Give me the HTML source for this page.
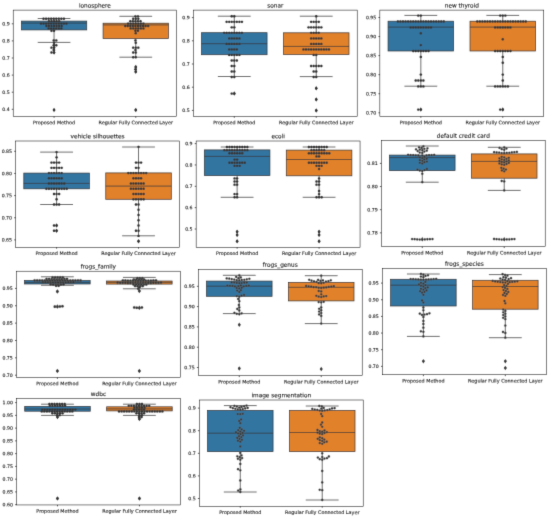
<!DOCTYPE html>
<html><head><meta charset="utf-8"><title>Box and swarm plots</title>
<style>html,body{margin:0;padding:0;background:#fff}svg{display:block}text{font-family:"DejaVu Sans","Liberation Sans",sans-serif;fill:#111;stroke:#111;stroke-width:0.3px}</style></head>
<body>
<svg width="550" height="518" viewBox="0 0 550 518">
<rect width="550" height="518" fill="#fff"/>
<defs><filter id="soft" x="0" y="0" width="550" height="518" filterUnits="userSpaceOnUse"><feConvolveMatrix order="3" kernelMatrix="0.01 0.08 0.01 0.08 0.64 0.08 0.01 0.08 0.01" edgeMode="duplicate" preserveAlpha="false"/></filter></defs>
<g filter="url(#soft)">
<g>
<rect x="21.37" y="21.10" width="65.36" height="8.80" fill="#3274a1" stroke="#383838" stroke-width="0.72"/>
<path d="M54.05 18.50V21.10M54.05 29.90V42.40M37.71 18.50H70.39M37.71 42.40H70.39M21.37 23.10H86.73" fill="none" stroke="#383838" stroke-width="0.72"/>
<path d="M54.05 42.98l1.3 2.25l-1.3 2.25l-1.3 -2.25z" fill="#383838"/>
<path d="M54.05 45.39l1.3 2.25l-1.3 2.25l-1.3 -2.25z" fill="#383838"/>
<path d="M54.05 47.80l1.3 2.25l-1.3 2.25l-1.3 -2.25z" fill="#383838"/>
<path d="M54.05 50.21l1.3 2.25l-1.3 2.25l-1.3 -2.25z" fill="#383838"/>
<path d="M54.05 107.65l1.3 2.25l-1.3 2.25l-1.3 -2.25z" fill="#383838"/>
<g fill="#333" stroke="#555" stroke-width="0.2"><circle cx="54.05" cy="109.90" r="1.18"/><circle cx="54.05" cy="52.46" r="1.18"/><circle cx="51.50" cy="52.46" r="1.18"/><circle cx="53.72" cy="50.05" r="1.18"/><circle cx="54.05" cy="47.64" r="1.18"/><circle cx="51.50" cy="47.64" r="1.18"/><circle cx="53.72" cy="45.23" r="1.18"/><circle cx="56.27" cy="45.23" r="1.18"/><circle cx="54.05" cy="42.82" r="1.18"/><circle cx="53.72" cy="40.42" r="1.18"/><circle cx="56.27" cy="40.42" r="1.18"/><circle cx="54.05" cy="30.78" r="1.18"/><circle cx="51.50" cy="30.78" r="1.18"/><circle cx="53.72" cy="28.38" r="1.18"/><circle cx="56.27" cy="28.38" r="1.18"/><circle cx="51.17" cy="28.38" r="1.18"/><circle cx="58.82" cy="28.38" r="1.18"/><circle cx="48.62" cy="28.38" r="1.18"/><circle cx="61.37" cy="28.38" r="1.18"/><circle cx="54.05" cy="25.97" r="1.18"/><circle cx="56.60" cy="25.97" r="1.18"/><circle cx="51.50" cy="25.97" r="1.18"/><circle cx="59.15" cy="25.97" r="1.18"/><circle cx="48.95" cy="25.97" r="1.18"/><circle cx="61.70" cy="25.97" r="1.18"/><circle cx="46.40" cy="25.97" r="1.18"/><circle cx="53.72" cy="23.56" r="1.18"/><circle cx="56.27" cy="23.56" r="1.18"/><circle cx="51.17" cy="23.56" r="1.18"/><circle cx="58.82" cy="23.56" r="1.18"/><circle cx="48.62" cy="23.56" r="1.18"/><circle cx="61.37" cy="23.56" r="1.18"/><circle cx="46.07" cy="23.56" r="1.18"/><circle cx="63.92" cy="23.56" r="1.18"/><circle cx="43.52" cy="23.56" r="1.18"/><circle cx="66.47" cy="23.56" r="1.18"/><circle cx="40.97" cy="23.56" r="1.18"/><circle cx="54.05" cy="21.15" r="1.18"/><circle cx="56.60" cy="21.15" r="1.18"/><circle cx="51.50" cy="21.15" r="1.18"/><circle cx="59.15" cy="21.15" r="1.18"/><circle cx="48.95" cy="21.15" r="1.18"/><circle cx="53.72" cy="18.74" r="1.18"/><circle cx="56.27" cy="18.74" r="1.18"/><circle cx="51.17" cy="18.74" r="1.18"/><circle cx="58.82" cy="18.74" r="1.18"/><circle cx="48.62" cy="18.74" r="1.18"/><circle cx="61.37" cy="18.74" r="1.18"/><circle cx="46.07" cy="18.74" r="1.18"/><circle cx="63.92" cy="18.74" r="1.18"/><circle cx="43.52" cy="18.74" r="1.18"/></g>
<rect x="103.07" y="23.20" width="65.36" height="15.40" fill="#e1812c" stroke="#383838" stroke-width="0.72"/>
<path d="M135.75 16.30V23.20M135.75 38.60V57.20M119.41 16.30H152.09M119.41 57.20H152.09M103.07 24.90H168.43" fill="none" stroke="#383838" stroke-width="0.72"/>
<path d="M135.75 64.65l1.3 2.25l-1.3 2.25l-1.3 -2.25z" fill="#383838"/>
<path d="M135.75 67.06l1.3 2.25l-1.3 2.25l-1.3 -2.25z" fill="#383838"/>
<path d="M135.75 69.47l1.3 2.25l-1.3 2.25l-1.3 -2.25z" fill="#383838"/>
<path d="M135.75 107.75l1.3 2.25l-1.3 2.25l-1.3 -2.25z" fill="#383838"/>
<g fill="#333" stroke="#555" stroke-width="0.2"><circle cx="135.75" cy="110.00" r="1.18"/><circle cx="135.75" cy="71.72" r="1.18"/><circle cx="135.42" cy="69.31" r="1.18"/><circle cx="135.75" cy="66.90" r="1.18"/><circle cx="135.75" cy="57.27" r="1.18"/><circle cx="133.20" cy="57.27" r="1.18"/><circle cx="135.75" cy="52.46" r="1.18"/><circle cx="133.20" cy="52.46" r="1.18"/><circle cx="135.42" cy="50.05" r="1.18"/><circle cx="135.75" cy="47.64" r="1.18"/><circle cx="133.20" cy="47.64" r="1.18"/><circle cx="138.30" cy="47.64" r="1.18"/><circle cx="135.75" cy="42.82" r="1.18"/><circle cx="135.42" cy="40.42" r="1.18"/><circle cx="135.75" cy="33.19" r="1.18"/><circle cx="135.42" cy="30.78" r="1.18"/><circle cx="137.97" cy="30.78" r="1.18"/><circle cx="135.75" cy="28.38" r="1.18"/><circle cx="138.30" cy="28.38" r="1.18"/><circle cx="133.20" cy="28.38" r="1.18"/><circle cx="140.85" cy="28.38" r="1.18"/><circle cx="130.65" cy="28.38" r="1.18"/><circle cx="143.40" cy="28.38" r="1.18"/><circle cx="135.42" cy="25.97" r="1.18"/><circle cx="137.97" cy="25.97" r="1.18"/><circle cx="132.87" cy="25.97" r="1.18"/><circle cx="140.52" cy="25.97" r="1.18"/><circle cx="130.32" cy="25.97" r="1.18"/><circle cx="143.07" cy="25.97" r="1.18"/><circle cx="127.77" cy="25.97" r="1.18"/><circle cx="145.62" cy="25.97" r="1.18"/><circle cx="125.22" cy="25.97" r="1.18"/><circle cx="148.17" cy="25.97" r="1.18"/><circle cx="135.75" cy="23.56" r="1.18"/><circle cx="138.30" cy="23.56" r="1.18"/><circle cx="133.20" cy="23.56" r="1.18"/><circle cx="140.85" cy="23.56" r="1.18"/><circle cx="130.65" cy="23.56" r="1.18"/><circle cx="143.40" cy="23.56" r="1.18"/><circle cx="128.10" cy="23.56" r="1.18"/><circle cx="135.42" cy="21.15" r="1.18"/><circle cx="137.97" cy="21.15" r="1.18"/><circle cx="132.87" cy="21.15" r="1.18"/><circle cx="140.52" cy="21.15" r="1.18"/><circle cx="130.32" cy="21.15" r="1.18"/><circle cx="135.75" cy="18.74" r="1.18"/><circle cx="138.30" cy="18.74" r="1.18"/><circle cx="133.20" cy="18.74" r="1.18"/><circle cx="135.42" cy="16.34" r="1.18"/><circle cx="137.97" cy="16.34" r="1.18"/></g>
<rect x="13.20" y="10.10" width="163.40" height="106.30" fill="none" stroke="#000" stroke-width="0.5"/>
<path d="M13.20 23.80h-1.4M13.20 40.90h-1.4M13.20 58.00h-1.4M13.20 75.10h-1.4M13.20 92.20h-1.4M13.20 109.30h-1.4M54.05 116.40v1.4M135.75 116.40v1.4" stroke="#000" stroke-width="0.65" fill="none"/>
<text transform="translate(9.60 25.50) scale(0.3056) rotate(0.05)" font-size="15.28" text-anchor="end">0.9</text>
<text transform="translate(9.60 42.60) scale(0.3056) rotate(0.05)" font-size="15.28" text-anchor="end">0.8</text>
<text transform="translate(9.60 59.70) scale(0.3056) rotate(0.05)" font-size="15.28" text-anchor="end">0.7</text>
<text transform="translate(9.60 76.80) scale(0.3056) rotate(0.05)" font-size="15.28" text-anchor="end">0.6</text>
<text transform="translate(9.60 93.90) scale(0.3056) rotate(0.05)" font-size="15.28" text-anchor="end">0.5</text>
<text transform="translate(9.60 111.00) scale(0.3056) rotate(0.05)" font-size="15.28" text-anchor="end">0.4</text>
<text transform="translate(54.05 124.20) scale(0.3056) rotate(0.05)" font-size="15.97" text-anchor="middle">Proposed Method</text>
<text transform="translate(135.75 124.20) scale(0.3056) rotate(0.05)" font-size="15.97" text-anchor="middle">Regular Fully Connected Layer</text>
<text transform="translate(94.90 7.45) scale(0.3056) rotate(0.05)" font-size="18.89" text-anchor="middle">ionosphere</text>
</g>
<g>
<rect x="201.50" y="32.70" width="65.56" height="22.00" fill="#3274a1" stroke="#383838" stroke-width="0.72"/>
<path d="M234.28 16.20V32.70M234.28 54.70V76.50M217.88 16.20H250.67M217.88 76.50H250.67M201.50 43.70H267.06" fill="none" stroke="#383838" stroke-width="0.72"/>
<path d="M234.28 91.33l1.3 2.25l-1.3 2.25l-1.3 -2.25z" fill="#383838"/>
<g fill="#333" stroke="#555" stroke-width="0.2"><circle cx="234.28" cy="93.58" r="1.18"/><circle cx="231.72" cy="93.58" r="1.18"/><circle cx="234.28" cy="77.02" r="1.18"/><circle cx="231.72" cy="77.02" r="1.18"/><circle cx="234.28" cy="71.50" r="1.18"/><circle cx="231.72" cy="71.50" r="1.18"/><circle cx="234.28" cy="65.98" r="1.18"/><circle cx="231.72" cy="65.98" r="1.18"/><circle cx="234.28" cy="60.46" r="1.18"/><circle cx="231.72" cy="60.46" r="1.18"/><circle cx="236.83" cy="60.46" r="1.18"/><circle cx="234.28" cy="54.94" r="1.18"/><circle cx="231.72" cy="54.94" r="1.18"/><circle cx="236.83" cy="54.94" r="1.18"/><circle cx="229.18" cy="54.94" r="1.18"/><circle cx="239.38" cy="54.94" r="1.18"/><circle cx="234.28" cy="49.42" r="1.18"/><circle cx="231.72" cy="49.42" r="1.18"/><circle cx="236.83" cy="49.42" r="1.18"/><circle cx="229.18" cy="49.42" r="1.18"/><circle cx="234.28" cy="43.90" r="1.18"/><circle cx="231.72" cy="43.90" r="1.18"/><circle cx="236.83" cy="43.90" r="1.18"/><circle cx="229.18" cy="43.90" r="1.18"/><circle cx="239.38" cy="43.90" r="1.18"/><circle cx="226.62" cy="43.90" r="1.18"/><circle cx="234.28" cy="38.38" r="1.18"/><circle cx="231.72" cy="38.38" r="1.18"/><circle cx="236.83" cy="38.38" r="1.18"/><circle cx="229.18" cy="38.38" r="1.18"/><circle cx="239.38" cy="38.38" r="1.18"/><circle cx="234.28" cy="32.86" r="1.18"/><circle cx="231.72" cy="32.86" r="1.18"/><circle cx="236.83" cy="32.86" r="1.18"/><circle cx="229.18" cy="32.86" r="1.18"/><circle cx="239.38" cy="32.86" r="1.18"/><circle cx="226.62" cy="32.86" r="1.18"/><circle cx="241.93" cy="32.86" r="1.18"/><circle cx="224.08" cy="32.86" r="1.18"/><circle cx="234.28" cy="27.34" r="1.18"/><circle cx="231.72" cy="27.34" r="1.18"/><circle cx="234.28" cy="21.82" r="1.18"/><circle cx="231.72" cy="21.82" r="1.18"/><circle cx="236.83" cy="21.82" r="1.18"/><circle cx="229.18" cy="21.82" r="1.18"/><circle cx="239.38" cy="21.82" r="1.18"/><circle cx="226.62" cy="21.82" r="1.18"/><circle cx="241.93" cy="21.82" r="1.18"/><circle cx="234.28" cy="16.30" r="1.18"/><circle cx="231.72" cy="16.30" r="1.18"/></g>
<rect x="283.45" y="32.80" width="65.56" height="21.70" fill="#e1812c" stroke="#383838" stroke-width="0.72"/>
<path d="M316.23 16.20V32.80M316.23 54.50V76.60M299.84 16.20H332.62M299.84 76.60H332.62M283.45 46.40H349.00" fill="none" stroke="#383838" stroke-width="0.72"/>
<path d="M316.23 86.11l1.3 2.25l-1.3 2.25l-1.3 -2.25z" fill="#383838"/>
<path d="M316.23 97.15l1.3 2.25l-1.3 2.25l-1.3 -2.25z" fill="#383838"/>
<path d="M316.23 108.19l1.3 2.25l-1.3 2.25l-1.3 -2.25z" fill="#383838"/>
<g fill="#333" stroke="#555" stroke-width="0.2"><circle cx="316.23" cy="110.44" r="1.18"/><circle cx="316.23" cy="99.40" r="1.18"/><circle cx="316.23" cy="88.36" r="1.18"/><circle cx="316.23" cy="77.02" r="1.18"/><circle cx="313.68" cy="77.02" r="1.18"/><circle cx="316.23" cy="71.50" r="1.18"/><circle cx="313.68" cy="71.50" r="1.18"/><circle cx="316.23" cy="65.98" r="1.18"/><circle cx="313.68" cy="65.98" r="1.18"/><circle cx="318.78" cy="65.98" r="1.18"/><circle cx="311.12" cy="65.98" r="1.18"/><circle cx="321.33" cy="65.98" r="1.18"/><circle cx="316.23" cy="54.94" r="1.18"/><circle cx="313.68" cy="54.94" r="1.18"/><circle cx="316.23" cy="49.42" r="1.18"/><circle cx="313.68" cy="49.42" r="1.18"/><circle cx="318.78" cy="49.42" r="1.18"/><circle cx="311.12" cy="49.42" r="1.18"/><circle cx="321.33" cy="49.42" r="1.18"/><circle cx="308.58" cy="49.42" r="1.18"/><circle cx="323.88" cy="49.42" r="1.18"/><circle cx="306.03" cy="49.42" r="1.18"/><circle cx="326.43" cy="49.42" r="1.18"/><circle cx="303.48" cy="49.42" r="1.18"/><circle cx="328.98" cy="49.42" r="1.18"/><circle cx="316.23" cy="43.90" r="1.18"/><circle cx="313.68" cy="43.90" r="1.18"/><circle cx="318.78" cy="43.90" r="1.18"/><circle cx="311.12" cy="43.90" r="1.18"/><circle cx="321.33" cy="43.90" r="1.18"/><circle cx="316.23" cy="38.38" r="1.18"/><circle cx="313.68" cy="38.38" r="1.18"/><circle cx="318.78" cy="38.38" r="1.18"/><circle cx="311.12" cy="38.38" r="1.18"/><circle cx="321.33" cy="38.38" r="1.18"/><circle cx="316.23" cy="32.86" r="1.18"/><circle cx="313.68" cy="32.86" r="1.18"/><circle cx="318.78" cy="32.86" r="1.18"/><circle cx="311.12" cy="32.86" r="1.18"/><circle cx="316.23" cy="27.34" r="1.18"/><circle cx="313.68" cy="27.34" r="1.18"/><circle cx="318.78" cy="27.34" r="1.18"/><circle cx="311.12" cy="27.34" r="1.18"/><circle cx="321.33" cy="27.34" r="1.18"/><circle cx="308.58" cy="27.34" r="1.18"/><circle cx="316.23" cy="21.82" r="1.18"/><circle cx="313.68" cy="21.82" r="1.18"/><circle cx="318.78" cy="21.82" r="1.18"/><circle cx="311.12" cy="21.82" r="1.18"/><circle cx="316.23" cy="16.30" r="1.18"/></g>
<rect x="193.30" y="10.10" width="163.90" height="106.30" fill="none" stroke="#000" stroke-width="0.5"/>
<path d="M193.30 17.60h-1.4M193.30 40.80h-1.4M193.30 64.00h-1.4M193.30 87.20h-1.4M193.30 110.40h-1.4M234.28 116.40v1.4M316.23 116.40v1.4" stroke="#000" stroke-width="0.65" fill="none"/>
<text transform="translate(189.70 19.30) scale(0.3056) rotate(0.05)" font-size="15.28" text-anchor="end">0.9</text>
<text transform="translate(189.70 42.50) scale(0.3056) rotate(0.05)" font-size="15.28" text-anchor="end">0.8</text>
<text transform="translate(189.70 65.70) scale(0.3056) rotate(0.05)" font-size="15.28" text-anchor="end">0.7</text>
<text transform="translate(189.70 88.90) scale(0.3056) rotate(0.05)" font-size="15.28" text-anchor="end">0.6</text>
<text transform="translate(189.70 112.10) scale(0.3056) rotate(0.05)" font-size="15.28" text-anchor="end">0.5</text>
<text transform="translate(234.28 124.20) scale(0.3056) rotate(0.05)" font-size="15.97" text-anchor="middle">Proposed Method</text>
<text transform="translate(316.23 124.20) scale(0.3056) rotate(0.05)" font-size="15.97" text-anchor="middle">Regular Fully Connected Layer</text>
<text transform="translate(275.25 7.45) scale(0.3056) rotate(0.05)" font-size="18.89" text-anchor="middle">sonar</text>
</g>
<g>
<rect x="388.05" y="21.20" width="65.56" height="29.80" fill="#3274a1" stroke="#383838" stroke-width="0.72"/>
<path d="M420.83 15.40V21.20M420.83 51.00V86.20M404.44 15.40H437.22M404.44 86.20H437.22M388.05 27.10H453.61" fill="none" stroke="#383838" stroke-width="0.72"/>
<path d="M420.83 107.35l1.3 2.25l-1.3 2.25l-1.3 -2.25z" fill="#383838"/>
<g fill="#333" stroke="#555" stroke-width="0.2"><circle cx="420.83" cy="109.60" r="1.18"/><circle cx="418.28" cy="109.60" r="1.18"/><circle cx="420.83" cy="86.40" r="1.18"/><circle cx="418.28" cy="86.40" r="1.18"/><circle cx="423.38" cy="86.40" r="1.18"/><circle cx="420.83" cy="80.50" r="1.18"/><circle cx="418.28" cy="80.50" r="1.18"/><circle cx="423.38" cy="80.50" r="1.18"/><circle cx="415.73" cy="80.50" r="1.18"/><circle cx="420.83" cy="74.60" r="1.18"/><circle cx="420.83" cy="56.90" r="1.18"/><circle cx="420.83" cy="51.00" r="1.18"/><circle cx="418.28" cy="51.00" r="1.18"/><circle cx="423.38" cy="51.00" r="1.18"/><circle cx="415.73" cy="51.00" r="1.18"/><circle cx="425.93" cy="51.00" r="1.18"/><circle cx="413.18" cy="51.00" r="1.18"/><circle cx="428.48" cy="51.00" r="1.18"/><circle cx="420.83" cy="45.10" r="1.18"/><circle cx="420.83" cy="33.30" r="1.18"/><circle cx="420.83" cy="27.40" r="1.18"/><circle cx="418.28" cy="27.40" r="1.18"/><circle cx="423.38" cy="27.40" r="1.18"/><circle cx="415.73" cy="27.40" r="1.18"/><circle cx="425.93" cy="27.40" r="1.18"/><circle cx="413.18" cy="27.40" r="1.18"/><circle cx="428.48" cy="27.40" r="1.18"/><circle cx="410.63" cy="27.40" r="1.18"/><circle cx="431.03" cy="27.40" r="1.18"/><circle cx="420.83" cy="21.50" r="1.18"/><circle cx="418.28" cy="21.50" r="1.18"/><circle cx="423.38" cy="21.50" r="1.18"/><circle cx="415.73" cy="21.50" r="1.18"/><circle cx="425.93" cy="21.50" r="1.18"/><circle cx="413.18" cy="21.50" r="1.18"/><circle cx="428.48" cy="21.50" r="1.18"/><circle cx="410.63" cy="21.50" r="1.18"/><circle cx="431.03" cy="21.50" r="1.18"/><circle cx="408.08" cy="21.50" r="1.18"/><circle cx="433.58" cy="21.50" r="1.18"/><circle cx="405.53" cy="21.50" r="1.18"/><circle cx="436.13" cy="21.50" r="1.18"/><circle cx="402.98" cy="21.50" r="1.18"/><circle cx="438.68" cy="21.50" r="1.18"/><circle cx="400.43" cy="21.50" r="1.18"/><circle cx="441.23" cy="21.50" r="1.18"/><circle cx="397.88" cy="21.50" r="1.18"/><circle cx="443.78" cy="21.50" r="1.18"/><circle cx="420.83" cy="15.60" r="1.18"/><circle cx="418.28" cy="15.60" r="1.18"/></g>
<rect x="470.00" y="21.20" width="65.56" height="29.80" fill="#e1812c" stroke="#383838" stroke-width="0.72"/>
<path d="M502.78 15.40V21.20M502.78 51.00V86.20M486.39 15.40H519.17M486.39 86.20H519.17M470.00 27.10H535.56" fill="none" stroke="#383838" stroke-width="0.72"/>
<path d="M502.78 107.35l1.3 2.25l-1.3 2.25l-1.3 -2.25z" fill="#383838"/>
<g fill="#333" stroke="#555" stroke-width="0.2"><circle cx="502.78" cy="109.60" r="1.18"/><circle cx="500.23" cy="109.60" r="1.18"/><circle cx="502.78" cy="86.40" r="1.18"/><circle cx="500.23" cy="86.40" r="1.18"/><circle cx="505.33" cy="86.40" r="1.18"/><circle cx="497.68" cy="86.40" r="1.18"/><circle cx="507.88" cy="86.40" r="1.18"/><circle cx="495.13" cy="86.40" r="1.18"/><circle cx="502.78" cy="80.50" r="1.18"/><circle cx="502.78" cy="74.60" r="1.18"/><circle cx="502.78" cy="62.80" r="1.18"/><circle cx="502.78" cy="56.90" r="1.18"/><circle cx="502.78" cy="51.00" r="1.18"/><circle cx="500.23" cy="51.00" r="1.18"/><circle cx="505.33" cy="51.00" r="1.18"/><circle cx="497.68" cy="51.00" r="1.18"/><circle cx="507.88" cy="51.00" r="1.18"/><circle cx="495.13" cy="51.00" r="1.18"/><circle cx="510.43" cy="51.00" r="1.18"/><circle cx="502.78" cy="39.20" r="1.18"/><circle cx="502.78" cy="27.40" r="1.18"/><circle cx="500.23" cy="27.40" r="1.18"/><circle cx="505.33" cy="27.40" r="1.18"/><circle cx="497.68" cy="27.40" r="1.18"/><circle cx="507.88" cy="27.40" r="1.18"/><circle cx="495.13" cy="27.40" r="1.18"/><circle cx="510.43" cy="27.40" r="1.18"/><circle cx="502.78" cy="21.50" r="1.18"/><circle cx="500.23" cy="21.50" r="1.18"/><circle cx="505.33" cy="21.50" r="1.18"/><circle cx="497.68" cy="21.50" r="1.18"/><circle cx="507.88" cy="21.50" r="1.18"/><circle cx="495.13" cy="21.50" r="1.18"/><circle cx="510.43" cy="21.50" r="1.18"/><circle cx="492.58" cy="21.50" r="1.18"/><circle cx="512.98" cy="21.50" r="1.18"/><circle cx="490.03" cy="21.50" r="1.18"/><circle cx="515.53" cy="21.50" r="1.18"/><circle cx="487.48" cy="21.50" r="1.18"/><circle cx="518.08" cy="21.50" r="1.18"/><circle cx="484.93" cy="21.50" r="1.18"/><circle cx="520.62" cy="21.50" r="1.18"/><circle cx="482.38" cy="21.50" r="1.18"/><circle cx="523.18" cy="21.50" r="1.18"/><circle cx="479.83" cy="21.50" r="1.18"/><circle cx="525.73" cy="21.50" r="1.18"/><circle cx="477.28" cy="21.50" r="1.18"/><circle cx="502.78" cy="15.60" r="1.18"/><circle cx="500.23" cy="15.60" r="1.18"/><circle cx="505.33" cy="15.60" r="1.18"/></g>
<rect x="379.85" y="10.10" width="163.90" height="106.30" fill="none" stroke="#000" stroke-width="0.5"/>
<path d="M379.85 17.50h-1.4M379.85 36.56h-1.4M379.85 55.62h-1.4M379.85 74.68h-1.4M379.85 93.74h-1.4M379.85 112.80h-1.4M420.83 116.40v1.4M502.78 116.40v1.4" stroke="#000" stroke-width="0.65" fill="none"/>
<text transform="translate(376.25 19.20) scale(0.3056) rotate(0.05)" font-size="15.28" text-anchor="end">0.95</text>
<text transform="translate(376.25 38.26) scale(0.3056) rotate(0.05)" font-size="15.28" text-anchor="end">0.90</text>
<text transform="translate(376.25 57.32) scale(0.3056) rotate(0.05)" font-size="15.28" text-anchor="end">0.85</text>
<text transform="translate(376.25 76.38) scale(0.3056) rotate(0.05)" font-size="15.28" text-anchor="end">0.80</text>
<text transform="translate(376.25 95.44) scale(0.3056) rotate(0.05)" font-size="15.28" text-anchor="end">0.75</text>
<text transform="translate(376.25 114.50) scale(0.3056) rotate(0.05)" font-size="15.28" text-anchor="end">0.70</text>
<text transform="translate(420.83 124.20) scale(0.3056) rotate(0.05)" font-size="15.97" text-anchor="middle">Proposed Method</text>
<text transform="translate(502.78 124.20) scale(0.3056) rotate(0.05)" font-size="15.97" text-anchor="middle">Regular Fully Connected Layer</text>
<text transform="translate(461.80 7.45) scale(0.3056) rotate(0.05)" font-size="18.89" text-anchor="middle">new thyroid</text>
</g>
<g>
<rect x="23.80" y="173.10" width="65.56" height="15.70" fill="#3274a1" stroke="#383838" stroke-width="0.72"/>
<path d="M56.58 152.10V173.10M56.58 188.80V204.50M40.19 152.10H72.97M40.19 204.50H72.97M23.80 183.40H89.36" fill="none" stroke="#383838" stroke-width="0.72"/>
<path d="M56.58 223.21l1.3 2.25l-1.3 2.25l-1.3 -2.25z" fill="#383838"/>
<path d="M56.58 228.45l1.3 2.25l-1.3 2.25l-1.3 -2.25z" fill="#383838"/>
<g fill="#333" stroke="#555" stroke-width="0.2"><circle cx="56.58" cy="230.70" r="1.18"/><circle cx="54.03" cy="230.70" r="1.18"/><circle cx="56.58" cy="225.46" r="1.18"/><circle cx="54.03" cy="225.46" r="1.18"/><circle cx="56.58" cy="204.50" r="1.18"/><circle cx="54.03" cy="204.50" r="1.18"/><circle cx="59.12" cy="204.50" r="1.18"/><circle cx="56.58" cy="199.26" r="1.18"/><circle cx="56.58" cy="194.02" r="1.18"/><circle cx="54.03" cy="194.02" r="1.18"/><circle cx="59.12" cy="194.02" r="1.18"/><circle cx="56.58" cy="188.78" r="1.18"/><circle cx="54.03" cy="188.78" r="1.18"/><circle cx="59.12" cy="188.78" r="1.18"/><circle cx="51.48" cy="188.78" r="1.18"/><circle cx="61.68" cy="188.78" r="1.18"/><circle cx="48.93" cy="188.78" r="1.18"/><circle cx="64.23" cy="188.78" r="1.18"/><circle cx="46.38" cy="188.78" r="1.18"/><circle cx="66.78" cy="188.78" r="1.18"/><circle cx="56.58" cy="183.54" r="1.18"/><circle cx="54.03" cy="183.54" r="1.18"/><circle cx="59.12" cy="183.54" r="1.18"/><circle cx="51.48" cy="183.54" r="1.18"/><circle cx="61.68" cy="183.54" r="1.18"/><circle cx="48.93" cy="183.54" r="1.18"/><circle cx="64.23" cy="183.54" r="1.18"/><circle cx="56.58" cy="178.30" r="1.18"/><circle cx="54.03" cy="178.30" r="1.18"/><circle cx="59.12" cy="178.30" r="1.18"/><circle cx="51.48" cy="178.30" r="1.18"/><circle cx="61.68" cy="178.30" r="1.18"/><circle cx="48.93" cy="178.30" r="1.18"/><circle cx="56.58" cy="173.06" r="1.18"/><circle cx="54.03" cy="173.06" r="1.18"/><circle cx="59.12" cy="173.06" r="1.18"/><circle cx="51.48" cy="173.06" r="1.18"/><circle cx="61.68" cy="173.06" r="1.18"/><circle cx="48.93" cy="173.06" r="1.18"/><circle cx="56.58" cy="167.82" r="1.18"/><circle cx="54.03" cy="167.82" r="1.18"/><circle cx="59.12" cy="167.82" r="1.18"/><circle cx="51.48" cy="167.82" r="1.18"/><circle cx="61.68" cy="167.82" r="1.18"/><circle cx="56.58" cy="162.58" r="1.18"/><circle cx="54.03" cy="162.58" r="1.18"/><circle cx="59.12" cy="162.58" r="1.18"/><circle cx="51.48" cy="162.58" r="1.18"/><circle cx="56.58" cy="157.34" r="1.18"/><circle cx="56.58" cy="152.10" r="1.18"/></g>
<rect x="105.75" y="172.90" width="65.56" height="26.40" fill="#e1812c" stroke="#383838" stroke-width="0.72"/>
<path d="M138.53 147.00V172.90M138.53 199.30V235.80M122.14 147.00H154.92M122.14 235.80H154.92M105.75 186.10H171.31" fill="none" stroke="#383838" stroke-width="0.72"/>
<path d="M138.53 238.93l1.3 2.25l-1.3 2.25l-1.3 -2.25z" fill="#383838"/>
<g fill="#333" stroke="#555" stroke-width="0.2"><circle cx="138.53" cy="241.18" r="1.18"/><circle cx="138.53" cy="235.94" r="1.18"/><circle cx="138.53" cy="230.70" r="1.18"/><circle cx="135.97" cy="230.70" r="1.18"/><circle cx="138.53" cy="225.46" r="1.18"/><circle cx="138.53" cy="220.22" r="1.18"/><circle cx="138.53" cy="214.98" r="1.18"/><circle cx="138.53" cy="209.74" r="1.18"/><circle cx="138.53" cy="204.50" r="1.18"/><circle cx="135.97" cy="204.50" r="1.18"/><circle cx="138.53" cy="199.26" r="1.18"/><circle cx="135.97" cy="199.26" r="1.18"/><circle cx="141.08" cy="199.26" r="1.18"/><circle cx="133.43" cy="199.26" r="1.18"/><circle cx="143.62" cy="199.26" r="1.18"/><circle cx="138.53" cy="194.02" r="1.18"/><circle cx="135.97" cy="194.02" r="1.18"/><circle cx="141.08" cy="194.02" r="1.18"/><circle cx="133.43" cy="194.02" r="1.18"/><circle cx="143.62" cy="194.02" r="1.18"/><circle cx="138.53" cy="188.78" r="1.18"/><circle cx="135.97" cy="188.78" r="1.18"/><circle cx="141.08" cy="188.78" r="1.18"/><circle cx="133.43" cy="188.78" r="1.18"/><circle cx="143.62" cy="188.78" r="1.18"/><circle cx="130.88" cy="188.78" r="1.18"/><circle cx="138.53" cy="183.54" r="1.18"/><circle cx="135.97" cy="183.54" r="1.18"/><circle cx="141.08" cy="183.54" r="1.18"/><circle cx="133.43" cy="183.54" r="1.18"/><circle cx="143.62" cy="183.54" r="1.18"/><circle cx="130.88" cy="183.54" r="1.18"/><circle cx="138.53" cy="178.30" r="1.18"/><circle cx="135.97" cy="178.30" r="1.18"/><circle cx="141.08" cy="178.30" r="1.18"/><circle cx="133.43" cy="178.30" r="1.18"/><circle cx="138.53" cy="173.06" r="1.18"/><circle cx="135.97" cy="173.06" r="1.18"/><circle cx="141.08" cy="173.06" r="1.18"/><circle cx="133.43" cy="173.06" r="1.18"/><circle cx="143.62" cy="173.06" r="1.18"/><circle cx="130.88" cy="173.06" r="1.18"/><circle cx="146.18" cy="173.06" r="1.18"/><circle cx="128.33" cy="173.06" r="1.18"/><circle cx="138.53" cy="167.82" r="1.18"/><circle cx="135.97" cy="167.82" r="1.18"/><circle cx="138.53" cy="162.58" r="1.18"/><circle cx="135.97" cy="162.58" r="1.18"/><circle cx="141.08" cy="162.58" r="1.18"/><circle cx="138.53" cy="146.86" r="1.18"/></g>
<rect x="15.60" y="141.00" width="163.90" height="106.30" fill="none" stroke="#000" stroke-width="0.5"/>
<path d="M15.60 151.30h-1.4M15.60 173.45h-1.4M15.60 195.60h-1.4M15.60 217.75h-1.4M15.60 239.90h-1.4M56.58 247.30v1.4M138.53 247.30v1.4" stroke="#000" stroke-width="0.65" fill="none"/>
<text transform="translate(12.00 153.00) scale(0.3056) rotate(0.05)" font-size="15.28" text-anchor="end">0.85</text>
<text transform="translate(12.00 175.15) scale(0.3056) rotate(0.05)" font-size="15.28" text-anchor="end">0.80</text>
<text transform="translate(12.00 197.30) scale(0.3056) rotate(0.05)" font-size="15.28" text-anchor="end">0.75</text>
<text transform="translate(12.00 219.45) scale(0.3056) rotate(0.05)" font-size="15.28" text-anchor="end">0.70</text>
<text transform="translate(12.00 241.60) scale(0.3056) rotate(0.05)" font-size="15.28" text-anchor="end">0.65</text>
<text transform="translate(56.58 255.10) scale(0.3056) rotate(0.05)" font-size="15.97" text-anchor="middle">Proposed Method</text>
<text transform="translate(138.53 255.10) scale(0.3056) rotate(0.05)" font-size="15.97" text-anchor="middle">Regular Fully Connected Layer</text>
<text transform="translate(97.55 138.35) scale(0.3056) rotate(0.05)" font-size="18.89" text-anchor="middle">vehicle silhouettes</text>
</g>
<g>
<rect x="204.34" y="149.90" width="65.56" height="25.70" fill="#3274a1" stroke="#383838" stroke-width="0.72"/>
<path d="M237.12 147.00V149.90M237.12 175.60V197.30M220.74 147.00H253.51M220.74 197.30H253.51M204.34 156.40H269.90" fill="none" stroke="#383838" stroke-width="0.72"/>
<path d="M237.12 229.53l1.3 2.25l-1.3 2.25l-1.3 -2.25z" fill="#383838"/>
<path d="M237.12 232.67l1.3 2.25l-1.3 2.25l-1.3 -2.25z" fill="#383838"/>
<path d="M237.12 238.95l1.3 2.25l-1.3 2.25l-1.3 -2.25z" fill="#383838"/>
<g fill="#333" stroke="#555" stroke-width="0.2"><circle cx="237.12" cy="241.20" r="1.18"/><circle cx="237.12" cy="234.92" r="1.18"/><circle cx="237.12" cy="231.78" r="1.18"/><circle cx="237.12" cy="197.24" r="1.18"/><circle cx="234.57" cy="197.24" r="1.18"/><circle cx="237.12" cy="194.10" r="1.18"/><circle cx="234.57" cy="194.10" r="1.18"/><circle cx="237.12" cy="184.68" r="1.18"/><circle cx="234.57" cy="184.68" r="1.18"/><circle cx="237.12" cy="181.54" r="1.18"/><circle cx="234.57" cy="181.54" r="1.18"/><circle cx="237.12" cy="178.40" r="1.18"/><circle cx="234.57" cy="178.40" r="1.18"/><circle cx="237.12" cy="165.84" r="1.18"/><circle cx="234.57" cy="165.84" r="1.18"/><circle cx="239.68" cy="165.84" r="1.18"/><circle cx="237.12" cy="162.70" r="1.18"/><circle cx="234.57" cy="162.70" r="1.18"/><circle cx="239.68" cy="162.70" r="1.18"/><circle cx="232.03" cy="162.70" r="1.18"/><circle cx="242.22" cy="162.70" r="1.18"/><circle cx="229.47" cy="162.70" r="1.18"/><circle cx="244.78" cy="162.70" r="1.18"/><circle cx="237.12" cy="159.56" r="1.18"/><circle cx="234.57" cy="159.56" r="1.18"/><circle cx="237.12" cy="153.28" r="1.18"/><circle cx="234.57" cy="153.28" r="1.18"/><circle cx="239.68" cy="153.28" r="1.18"/><circle cx="232.03" cy="153.28" r="1.18"/><circle cx="242.22" cy="153.28" r="1.18"/><circle cx="229.47" cy="153.28" r="1.18"/><circle cx="237.12" cy="150.14" r="1.18"/><circle cx="234.57" cy="150.14" r="1.18"/><circle cx="239.68" cy="150.14" r="1.18"/><circle cx="232.03" cy="150.14" r="1.18"/><circle cx="242.22" cy="150.14" r="1.18"/><circle cx="229.47" cy="150.14" r="1.18"/><circle cx="244.78" cy="150.14" r="1.18"/><circle cx="226.93" cy="150.14" r="1.18"/><circle cx="247.32" cy="150.14" r="1.18"/><circle cx="224.38" cy="150.14" r="1.18"/><circle cx="237.12" cy="147.00" r="1.18"/><circle cx="234.57" cy="147.00" r="1.18"/><circle cx="239.68" cy="147.00" r="1.18"/><circle cx="232.03" cy="147.00" r="1.18"/><circle cx="242.22" cy="147.00" r="1.18"/><circle cx="229.47" cy="147.00" r="1.18"/><circle cx="244.78" cy="147.00" r="1.18"/><circle cx="226.93" cy="147.00" r="1.18"/><circle cx="247.32" cy="147.00" r="1.18"/></g>
<rect x="286.30" y="150.10" width="65.56" height="25.70" fill="#e1812c" stroke="#383838" stroke-width="0.72"/>
<path d="M319.08 147.00V150.10M319.08 175.80V197.30M302.69 147.00H335.47M302.69 197.30H335.47M286.30 159.50H351.86" fill="none" stroke="#383838" stroke-width="0.72"/>
<path d="M319.08 229.53l1.3 2.25l-1.3 2.25l-1.3 -2.25z" fill="#383838"/>
<path d="M319.08 232.67l1.3 2.25l-1.3 2.25l-1.3 -2.25z" fill="#383838"/>
<path d="M319.08 238.95l1.3 2.25l-1.3 2.25l-1.3 -2.25z" fill="#383838"/>
<g fill="#333" stroke="#555" stroke-width="0.2"><circle cx="319.08" cy="241.20" r="1.18"/><circle cx="319.08" cy="234.92" r="1.18"/><circle cx="319.08" cy="231.78" r="1.18"/><circle cx="319.08" cy="197.24" r="1.18"/><circle cx="316.53" cy="197.24" r="1.18"/><circle cx="321.63" cy="197.24" r="1.18"/><circle cx="319.08" cy="194.10" r="1.18"/><circle cx="319.08" cy="190.96" r="1.18"/><circle cx="319.08" cy="184.68" r="1.18"/><circle cx="316.53" cy="184.68" r="1.18"/><circle cx="319.08" cy="181.54" r="1.18"/><circle cx="316.53" cy="181.54" r="1.18"/><circle cx="319.08" cy="178.40" r="1.18"/><circle cx="319.08" cy="168.98" r="1.18"/><circle cx="319.08" cy="165.84" r="1.18"/><circle cx="316.53" cy="165.84" r="1.18"/><circle cx="321.63" cy="165.84" r="1.18"/><circle cx="319.08" cy="162.70" r="1.18"/><circle cx="316.53" cy="162.70" r="1.18"/><circle cx="321.63" cy="162.70" r="1.18"/><circle cx="313.98" cy="162.70" r="1.18"/><circle cx="324.18" cy="162.70" r="1.18"/><circle cx="311.43" cy="162.70" r="1.18"/><circle cx="326.73" cy="162.70" r="1.18"/><circle cx="308.88" cy="162.70" r="1.18"/><circle cx="319.08" cy="156.42" r="1.18"/><circle cx="316.53" cy="156.42" r="1.18"/><circle cx="319.08" cy="153.28" r="1.18"/><circle cx="316.53" cy="153.28" r="1.18"/><circle cx="321.63" cy="153.28" r="1.18"/><circle cx="313.98" cy="153.28" r="1.18"/><circle cx="324.18" cy="153.28" r="1.18"/><circle cx="311.43" cy="153.28" r="1.18"/><circle cx="326.73" cy="153.28" r="1.18"/><circle cx="308.88" cy="153.28" r="1.18"/><circle cx="329.28" cy="153.28" r="1.18"/><circle cx="319.08" cy="150.14" r="1.18"/><circle cx="316.53" cy="150.14" r="1.18"/><circle cx="321.63" cy="150.14" r="1.18"/><circle cx="313.98" cy="150.14" r="1.18"/><circle cx="324.18" cy="150.14" r="1.18"/><circle cx="311.43" cy="150.14" r="1.18"/><circle cx="319.08" cy="147.00" r="1.18"/><circle cx="316.53" cy="147.00" r="1.18"/><circle cx="321.63" cy="147.00" r="1.18"/><circle cx="313.98" cy="147.00" r="1.18"/><circle cx="324.18" cy="147.00" r="1.18"/><circle cx="311.43" cy="147.00" r="1.18"/><circle cx="326.73" cy="147.00" r="1.18"/><circle cx="308.88" cy="147.00" r="1.18"/></g>
<rect x="196.15" y="141.00" width="163.90" height="106.30" fill="none" stroke="#000" stroke-width="0.5"/>
<path d="M196.15 143.60h-1.4M196.15 164.95h-1.4M196.15 186.30h-1.4M196.15 207.65h-1.4M196.15 229.00h-1.4M237.12 247.30v1.4M319.08 247.30v1.4" stroke="#000" stroke-width="0.65" fill="none"/>
<text transform="translate(192.55 145.30) scale(0.3056) rotate(0.05)" font-size="15.28" text-anchor="end">0.9</text>
<text transform="translate(192.55 166.65) scale(0.3056) rotate(0.05)" font-size="15.28" text-anchor="end">0.8</text>
<text transform="translate(192.55 188.00) scale(0.3056) rotate(0.05)" font-size="15.28" text-anchor="end">0.7</text>
<text transform="translate(192.55 209.35) scale(0.3056) rotate(0.05)" font-size="15.28" text-anchor="end">0.6</text>
<text transform="translate(192.55 230.70) scale(0.3056) rotate(0.05)" font-size="15.28" text-anchor="end">0.5</text>
<text transform="translate(237.12 255.10) scale(0.3056) rotate(0.05)" font-size="15.97" text-anchor="middle">Proposed Method</text>
<text transform="translate(319.08 255.10) scale(0.3056) rotate(0.05)" font-size="15.97" text-anchor="middle">Regular Fully Connected Layer</text>
<text transform="translate(278.10 138.35) scale(0.3056) rotate(0.05)" font-size="18.89" text-anchor="middle">ecoli</text>
</g>
<g>
<rect x="389.50" y="155.10" width="65.56" height="15.50" fill="#3274a1" stroke="#383838" stroke-width="0.72"/>
<path d="M422.28 146.00V155.10M422.28 170.60V182.20M405.89 146.00H438.67M405.89 182.20H438.67M389.50 157.60H455.06" fill="none" stroke="#383838" stroke-width="0.72"/>
<path d="M422.28 237.05l1.3 2.25l-1.3 2.25l-1.3 -2.25z" fill="#383838"/>
<g fill="#333" stroke="#777" stroke-width="0.3"><circle cx="422.28" cy="239.59" r="1.14"/><circle cx="419.73" cy="239.55" r="1.14"/><circle cx="424.82" cy="239.45" r="1.14"/><circle cx="417.18" cy="239.39" r="1.14"/><circle cx="427.36" cy="239.25" r="1.14"/><circle cx="414.64" cy="239.20" r="1.14"/><circle cx="429.91" cy="239.15" r="1.14"/><circle cx="412.09" cy="239.11" r="1.14"/><circle cx="432.46" cy="239.03" r="1.14"/><circle cx="422.28" cy="182.20" r="1.14"/><circle cx="422.28" cy="173.80" r="1.14"/><circle cx="422.28" cy="171.02" r="1.14"/><circle cx="419.78" cy="170.54" r="1.14"/><circle cx="424.60" cy="170.03" r="1.14"/><circle cx="417.46" cy="169.52" r="1.14"/><circle cx="426.92" cy="169.01" r="1.14"/><circle cx="422.28" cy="163.50" r="1.14"/><circle cx="419.83" cy="162.80" r="1.14"/><circle cx="424.42" cy="162.19" r="1.14"/><circle cx="426.87" cy="161.52" r="1.14"/><circle cx="422.28" cy="160.86" r="1.14"/><circle cx="419.84" cy="160.14" r="1.14"/><circle cx="424.34" cy="159.44" r="1.14"/><circle cx="426.79" cy="158.78" r="1.14"/><circle cx="422.28" cy="158.13" r="1.14"/><circle cx="419.83" cy="157.43" r="1.14"/><circle cx="424.39" cy="156.77" r="1.14"/><circle cx="422.28" cy="155.57" r="1.14"/><circle cx="418.29" cy="155.50" r="1.14"/><circle cx="426.55" cy="155.48" r="1.14"/><circle cx="415.75" cy="155.32" r="1.14"/><circle cx="429.09" cy="155.25" r="1.14"/><circle cx="413.20" cy="155.22" r="1.14"/><circle cx="431.63" cy="155.14" r="1.14"/><circle cx="410.65" cy="155.04" r="1.14"/><circle cx="434.18" cy="154.98" r="1.14"/><circle cx="408.11" cy="154.87" r="1.14"/><circle cx="422.28" cy="152.94" r="1.14"/><circle cx="419.76" cy="152.55" r="1.14"/><circle cx="424.36" cy="151.55" r="1.14"/><circle cx="417.72" cy="151.09" r="1.14"/><circle cx="426.75" cy="150.70" r="1.14"/><circle cx="422.28" cy="150.22" r="1.14"/><circle cx="419.83" cy="149.73" r="1.14"/><circle cx="416.04" cy="149.27" r="1.14"/><circle cx="424.33" cy="148.78" r="1.14"/><circle cx="427.45" cy="148.36" r="1.14"/><circle cx="421.51" cy="147.90" r="1.14"/><circle cx="419.02" cy="147.36" r="1.14"/><circle cx="423.42" cy="146.30" r="1.14"/></g>
<rect x="471.45" y="153.90" width="65.56" height="24.30" fill="#e1812c" stroke="#383838" stroke-width="0.72"/>
<path d="M504.23 147.30V153.90M504.23 178.20V190.40M487.84 147.30H520.62M487.84 190.40H520.62M471.45 161.40H537.00" fill="none" stroke="#383838" stroke-width="0.72"/>
<path d="M504.23 237.05l1.3 2.25l-1.3 2.25l-1.3 -2.25z" fill="#383838"/>
<g fill="#333" stroke="#777" stroke-width="0.3"><circle cx="504.23" cy="239.61" r="1.14"/><circle cx="501.68" cy="239.53" r="1.14"/><circle cx="506.77" cy="239.42" r="1.14"/><circle cx="509.32" cy="239.38" r="1.14"/><circle cx="499.14" cy="239.30" r="1.14"/><circle cx="511.86" cy="239.22" r="1.14"/><circle cx="496.59" cy="239.19" r="1.14"/><circle cx="514.41" cy="239.08" r="1.14"/><circle cx="494.05" cy="239.00" r="1.14"/><circle cx="504.23" cy="190.40" r="1.14"/><circle cx="504.23" cy="181.40" r="1.14"/><circle cx="501.71" cy="181.00" r="1.14"/><circle cx="504.23" cy="171.33" r="1.14"/><circle cx="501.87" cy="170.40" r="1.14"/><circle cx="505.97" cy="169.56" r="1.14"/><circle cx="503.66" cy="168.67" r="1.14"/><circle cx="501.28" cy="167.81" r="1.14"/><circle cx="504.23" cy="164.97" r="1.14"/><circle cx="501.73" cy="164.45" r="1.14"/><circle cx="506.56" cy="164.00" r="1.14"/><circle cx="499.41" cy="163.46" r="1.14"/><circle cx="508.87" cy="162.97" r="1.14"/><circle cx="504.23" cy="162.43" r="1.14"/><circle cx="501.74" cy="161.88" r="1.14"/><circle cx="506.55" cy="161.42" r="1.14"/><circle cx="499.40" cy="160.91" r="1.14"/><circle cx="508.83" cy="160.35" r="1.14"/><circle cx="504.23" cy="159.91" r="1.14"/><circle cx="501.74" cy="159.36" r="1.14"/><circle cx="506.49" cy="158.80" r="1.14"/><circle cx="499.41" cy="158.37" r="1.14"/><circle cx="508.81" cy="157.79" r="1.14"/><circle cx="504.23" cy="157.30" r="1.14"/><circle cx="501.73" cy="156.80" r="1.14"/><circle cx="504.23" cy="153.20" r="1.14"/><circle cx="501.68" cy="153.08" r="1.14"/><circle cx="506.76" cy="152.90" r="1.14"/><circle cx="509.31" cy="152.85" r="1.14"/><circle cx="499.17" cy="152.64" r="1.14"/><circle cx="496.62" cy="152.49" r="1.14"/><circle cx="511.82" cy="152.42" r="1.14"/><circle cx="514.36" cy="152.23" r="1.14"/><circle cx="494.10" cy="152.18" r="1.14"/><circle cx="516.89" cy="151.97" r="1.14"/><circle cx="504.23" cy="149.80" r="1.14"/><circle cx="501.77" cy="149.13" r="1.14"/><circle cx="506.42" cy="148.57" r="1.14"/><circle cx="499.58" cy="147.89" r="1.14"/><circle cx="504.23" cy="147.28" r="1.14"/></g>
<rect x="381.30" y="140.35" width="163.90" height="106.30" fill="none" stroke="#000" stroke-width="0.5"/>
<path d="M381.30 163.40h-1.4M381.30 186.55h-1.4M381.30 209.70h-1.4M381.30 232.85h-1.4M422.28 246.65v1.4M504.23 246.65v1.4" stroke="#000" stroke-width="0.65" fill="none"/>
<text transform="translate(377.70 165.10) scale(0.3056) rotate(0.05)" font-size="15.28" text-anchor="end">0.81</text>
<text transform="translate(377.70 188.25) scale(0.3056) rotate(0.05)" font-size="15.28" text-anchor="end">0.80</text>
<text transform="translate(377.70 211.40) scale(0.3056) rotate(0.05)" font-size="15.28" text-anchor="end">0.79</text>
<text transform="translate(377.70 234.55) scale(0.3056) rotate(0.05)" font-size="15.28" text-anchor="end">0.78</text>
<text transform="translate(422.28 254.45) scale(0.3056) rotate(0.05)" font-size="15.97" text-anchor="middle">Proposed Method</text>
<text transform="translate(504.23 254.45) scale(0.3056) rotate(0.05)" font-size="15.97" text-anchor="middle">Regular Fully Connected Layer</text>
<text transform="translate(463.25 137.70) scale(0.3056) rotate(0.05)" font-size="18.89" text-anchor="middle">default credit card</text>
</g>
<g>
<rect x="24.59" y="280.50" width="65.56" height="3.50" fill="#3274a1" stroke="#383838" stroke-width="0.72"/>
<path d="M57.38 276.80V280.50M57.38 284.00V285.30M40.98 276.80H73.77M40.98 285.30H73.77M24.59 282.40H90.16" fill="none" stroke="#383838" stroke-width="0.72"/>
<path d="M57.38 289.15l1.3 2.25l-1.3 2.25l-1.3 -2.25z" fill="#383838"/>
<path d="M57.38 304.25l1.3 2.25l-1.3 2.25l-1.3 -2.25z" fill="#383838"/>
<path d="M57.38 368.65l1.3 2.25l-1.3 2.25l-1.3 -2.25z" fill="#383838"/>
<g fill="#333" stroke="#777" stroke-width="0.3"><circle cx="57.38" cy="370.90" r="1.27"/><circle cx="57.38" cy="306.84" r="1.27"/><circle cx="54.83" cy="306.63" r="1.27"/><circle cx="59.89" cy="306.42" r="1.27"/><circle cx="62.43" cy="306.21" r="1.27"/><circle cx="57.38" cy="291.40" r="1.27"/><circle cx="52.58" cy="277.40" r="1.27"/><circle cx="55.12" cy="277.40" r="1.27"/><circle cx="57.67" cy="277.40" r="1.27"/><circle cx="60.23" cy="277.40" r="1.27"/><circle cx="62.77" cy="277.40" r="1.27"/><circle cx="46.58" cy="279.00" r="1.27"/><circle cx="49.12" cy="279.12" r="1.27"/><circle cx="51.67" cy="279.25" r="1.27"/><circle cx="54.23" cy="279.38" r="1.27"/><circle cx="56.77" cy="279.50" r="1.27"/><circle cx="59.33" cy="279.38" r="1.27"/><circle cx="61.88" cy="279.25" r="1.27"/><circle cx="64.42" cy="279.12" r="1.27"/><circle cx="66.97" cy="279.00" r="1.27"/><circle cx="34.62" cy="280.40" r="1.27"/><circle cx="37.17" cy="280.46" r="1.27"/><circle cx="39.73" cy="280.51" r="1.27"/><circle cx="42.27" cy="280.57" r="1.27"/><circle cx="44.83" cy="280.62" r="1.27"/><circle cx="47.38" cy="280.68" r="1.27"/><circle cx="49.92" cy="280.73" r="1.27"/><circle cx="52.48" cy="280.79" r="1.27"/><circle cx="55.02" cy="280.84" r="1.27"/><circle cx="57.58" cy="280.90" r="1.27"/><circle cx="60.12" cy="280.84" r="1.27"/><circle cx="62.67" cy="280.79" r="1.27"/><circle cx="65.22" cy="280.73" r="1.27"/><circle cx="67.78" cy="280.68" r="1.27"/><circle cx="70.33" cy="280.62" r="1.27"/><circle cx="72.88" cy="280.57" r="1.27"/><circle cx="75.42" cy="280.51" r="1.27"/><circle cx="77.97" cy="280.46" r="1.27"/><circle cx="80.53" cy="280.40" r="1.27"/><circle cx="42.88" cy="282.20" r="1.27"/><circle cx="45.42" cy="282.27" r="1.27"/><circle cx="47.98" cy="282.33" r="1.27"/><circle cx="50.52" cy="282.40" r="1.27"/><circle cx="53.08" cy="282.47" r="1.27"/><circle cx="55.62" cy="282.53" r="1.27"/><circle cx="58.17" cy="282.60" r="1.27"/><circle cx="60.73" cy="282.53" r="1.27"/><circle cx="63.27" cy="282.47" r="1.27"/><circle cx="65.83" cy="282.40" r="1.27"/><circle cx="68.38" cy="282.33" r="1.27"/><circle cx="70.92" cy="282.27" r="1.27"/><circle cx="73.47" cy="282.20" r="1.27"/><circle cx="50.70" cy="284.20" r="1.27"/><circle cx="53.25" cy="284.40" r="1.27"/><circle cx="55.80" cy="284.60" r="1.27"/><circle cx="58.35" cy="284.60" r="1.27"/><circle cx="60.90" cy="284.40" r="1.27"/><circle cx="63.45" cy="284.20" r="1.27"/><circle cx="56.10" cy="285.70" r="1.27"/><circle cx="58.65" cy="285.70" r="1.27"/></g>
<rect x="106.55" y="281.00" width="65.56" height="3.10" fill="#e1812c" stroke="#383838" stroke-width="0.72"/>
<path d="M139.33 277.40V281.00M139.33 284.10V288.80M122.94 277.40H155.72M122.94 288.80H155.72M106.55 282.30H172.11" fill="none" stroke="#383838" stroke-width="0.72"/>
<path d="M139.33 288.75l1.3 2.25l-1.3 2.25l-1.3 -2.25z" fill="#383838"/>
<path d="M139.33 305.45l1.3 2.25l-1.3 2.25l-1.3 -2.25z" fill="#383838"/>
<path d="M139.33 368.65l1.3 2.25l-1.3 2.25l-1.3 -2.25z" fill="#383838"/>
<g fill="#333" stroke="#777" stroke-width="0.3"><circle cx="139.33" cy="370.90" r="1.27"/><circle cx="139.33" cy="307.97" r="1.27"/><circle cx="136.78" cy="307.81" r="1.27"/><circle cx="141.84" cy="307.59" r="1.27"/><circle cx="134.27" cy="307.41" r="1.27"/><circle cx="139.33" cy="291.00" r="1.27"/><circle cx="138.25" cy="288.80" r="1.27"/><circle cx="137.28" cy="278.20" r="1.27"/><circle cx="139.83" cy="278.20" r="1.27"/><circle cx="142.38" cy="278.20" r="1.27"/><circle cx="133.83" cy="279.40" r="1.27"/><circle cx="136.38" cy="279.60" r="1.27"/><circle cx="138.93" cy="279.80" r="1.27"/><circle cx="141.48" cy="279.60" r="1.27"/><circle cx="144.03" cy="279.40" r="1.27"/><circle cx="122.85" cy="280.50" r="1.27"/><circle cx="125.40" cy="280.58" r="1.27"/><circle cx="127.95" cy="280.65" r="1.27"/><circle cx="130.50" cy="280.73" r="1.27"/><circle cx="133.05" cy="280.81" r="1.27"/><circle cx="135.60" cy="280.88" r="1.27"/><circle cx="138.15" cy="280.96" r="1.27"/><circle cx="140.70" cy="280.96" r="1.27"/><circle cx="143.25" cy="280.88" r="1.27"/><circle cx="145.80" cy="280.81" r="1.27"/><circle cx="148.35" cy="280.73" r="1.27"/><circle cx="150.90" cy="280.65" r="1.27"/><circle cx="153.45" cy="280.58" r="1.27"/><circle cx="156.00" cy="280.50" r="1.27"/><circle cx="117.65" cy="282.60" r="1.27"/><circle cx="120.20" cy="282.67" r="1.27"/><circle cx="122.75" cy="282.74" r="1.27"/><circle cx="125.30" cy="282.81" r="1.27"/><circle cx="127.85" cy="282.88" r="1.27"/><circle cx="130.40" cy="282.95" r="1.27"/><circle cx="132.95" cy="283.02" r="1.27"/><circle cx="135.50" cy="283.09" r="1.27"/><circle cx="138.05" cy="283.16" r="1.27"/><circle cx="140.60" cy="283.16" r="1.27"/><circle cx="143.15" cy="283.09" r="1.27"/><circle cx="145.70" cy="283.02" r="1.27"/><circle cx="148.25" cy="282.95" r="1.27"/><circle cx="150.80" cy="282.88" r="1.27"/><circle cx="153.35" cy="282.81" r="1.27"/><circle cx="155.90" cy="282.74" r="1.27"/><circle cx="158.45" cy="282.67" r="1.27"/><circle cx="161.00" cy="282.60" r="1.27"/><circle cx="133.55" cy="284.40" r="1.27"/><circle cx="136.10" cy="284.56" r="1.27"/><circle cx="138.65" cy="284.72" r="1.27"/><circle cx="141.20" cy="284.72" r="1.27"/><circle cx="143.75" cy="284.56" r="1.27"/><circle cx="146.30" cy="284.40" r="1.27"/><circle cx="135.10" cy="285.90" r="1.27"/><circle cx="137.65" cy="286.23" r="1.27"/><circle cx="140.20" cy="286.23" r="1.27"/><circle cx="142.75" cy="285.90" r="1.27"/><circle cx="139.33" cy="287.30" r="1.27"/></g>
<rect x="16.40" y="271.20" width="163.90" height="106.30" fill="none" stroke="#000" stroke-width="0.5"/>
<path d="M16.40 288.40h-1.4M16.40 305.76h-1.4M16.40 323.12h-1.4M16.40 340.48h-1.4M16.40 357.84h-1.4M16.40 375.20h-1.4M57.38 377.50v1.4M139.33 377.50v1.4" stroke="#000" stroke-width="0.65" fill="none"/>
<text transform="translate(12.80 290.10) scale(0.3056) rotate(0.05)" font-size="15.28" text-anchor="end">0.95</text>
<text transform="translate(12.80 307.46) scale(0.3056) rotate(0.05)" font-size="15.28" text-anchor="end">0.90</text>
<text transform="translate(12.80 324.82) scale(0.3056) rotate(0.05)" font-size="15.28" text-anchor="end">0.85</text>
<text transform="translate(12.80 342.18) scale(0.3056) rotate(0.05)" font-size="15.28" text-anchor="end">0.80</text>
<text transform="translate(12.80 359.54) scale(0.3056) rotate(0.05)" font-size="15.28" text-anchor="end">0.75</text>
<text transform="translate(12.80 376.90) scale(0.3056) rotate(0.05)" font-size="15.28" text-anchor="end">0.70</text>
<text transform="translate(57.38 385.30) scale(0.3056) rotate(0.05)" font-size="15.97" text-anchor="middle">Proposed Method</text>
<text transform="translate(139.33 385.30) scale(0.3056) rotate(0.05)" font-size="15.97" text-anchor="middle">Regular Fully Connected Layer</text>
<text transform="translate(98.35 268.55) scale(0.3056) rotate(0.05)" font-size="18.89" text-anchor="middle">frogs_family</text>
</g>
<g>
<rect x="206.50" y="281.10" width="65.56" height="15.20" fill="#3274a1" stroke="#383838" stroke-width="0.72"/>
<path d="M239.28 275.30V281.10M239.28 296.30V313.60M222.88 275.30H255.67M222.88 313.60H255.67M206.50 286.20H272.06" fill="none" stroke="#383838" stroke-width="0.72"/>
<path d="M239.28 322.55l1.3 2.25l-1.3 2.25l-1.3 -2.25z" fill="#383838"/>
<path d="M239.28 366.15l1.3 2.25l-1.3 2.25l-1.3 -2.25z" fill="#383838"/>
<g fill="#333" stroke="#777" stroke-width="0.3"><circle cx="239.28" cy="368.40" r="1.14"/><circle cx="239.28" cy="324.80" r="1.14"/><circle cx="239.28" cy="314.28" r="1.14"/><circle cx="236.77" cy="313.80" r="1.14"/><circle cx="241.62" cy="313.33" r="1.14"/><circle cx="234.44" cy="312.83" r="1.14"/><circle cx="239.28" cy="310.50" r="1.14"/><circle cx="237.27" cy="309.00" r="1.14"/><circle cx="239.28" cy="307.40" r="1.14"/><circle cx="238.88" cy="305.00" r="1.14"/><circle cx="239.28" cy="301.20" r="1.14"/><circle cx="238.19" cy="299.00" r="1.14"/><circle cx="239.28" cy="296.64" r="1.14"/><circle cx="236.79" cy="296.10" r="1.14"/><circle cx="241.56" cy="295.56" r="1.14"/><circle cx="244.04" cy="295.01" r="1.14"/><circle cx="239.28" cy="292.00" r="1.14"/><circle cx="237.19" cy="290.60" r="1.14"/><circle cx="240.99" cy="290.20" r="1.14"/><circle cx="239.28" cy="288.39" r="1.14"/><circle cx="236.75" cy="288.06" r="1.14"/><circle cx="241.74" cy="287.77" r="1.14"/><circle cx="234.91" cy="286.38" r="1.14"/><circle cx="243.78" cy="286.31" r="1.14"/><circle cx="238.42" cy="286.10" r="1.14"/><circle cx="232.40" cy="285.98" r="1.14"/><circle cx="246.29" cy="285.91" r="1.14"/><circle cx="229.85" cy="285.79" r="1.14"/><circle cx="248.82" cy="285.64" r="1.14"/><circle cx="227.32" cy="285.53" r="1.14"/><circle cx="240.85" cy="285.37" r="1.14"/><circle cx="239.28" cy="283.22" r="1.14"/><circle cx="241.72" cy="283.09" r="1.14"/><circle cx="236.74" cy="282.97" r="1.14"/><circle cx="244.25" cy="282.76" r="1.14"/><circle cx="234.21" cy="282.62" r="1.14"/><circle cx="246.79" cy="282.58" r="1.14"/><circle cx="231.67" cy="282.45" r="1.14"/><circle cx="239.28" cy="280.43" r="1.14"/><circle cx="236.74" cy="280.13" r="1.14"/><circle cx="241.77" cy="279.92" r="1.14"/><circle cx="244.31" cy="279.77" r="1.14"/><circle cx="234.27" cy="279.54" r="1.14"/><circle cx="246.81" cy="279.29" r="1.14"/><circle cx="231.77" cy="279.08" r="1.14"/><circle cx="249.32" cy="278.84" r="1.14"/><circle cx="229.26" cy="278.67" r="1.14"/><circle cx="226.72" cy="278.45" r="1.14"/><circle cx="238.37" cy="278.16" r="1.14"/><circle cx="240.79" cy="277.40" r="1.14"/><circle cx="236.19" cy="276.90" r="1.14"/><circle cx="239.28" cy="275.30" r="1.14"/></g>
<rect x="288.45" y="282.40" width="65.56" height="18.50" fill="#e1812c" stroke="#383838" stroke-width="0.72"/>
<path d="M321.23 275.70V282.40M321.23 300.90V323.60M304.84 275.70H337.62M304.84 323.60H337.62M288.45 287.30H354.00" fill="none" stroke="#383838" stroke-width="0.72"/>
<path d="M321.23 366.85l1.3 2.25l-1.3 2.25l-1.3 -2.25z" fill="#383838"/>
<g fill="#333" stroke="#777" stroke-width="0.3"><circle cx="321.23" cy="369.10" r="1.14"/><circle cx="321.23" cy="323.60" r="1.14"/><circle cx="321.23" cy="315.88" r="1.14"/><circle cx="319.15" cy="314.47" r="1.14"/><circle cx="321.23" cy="313.02" r="1.14"/><circle cx="319.14" cy="311.61" r="1.14"/><circle cx="321.23" cy="310.25" r="1.14"/><circle cx="319.15" cy="308.83" r="1.14"/><circle cx="321.23" cy="307.40" r="1.14"/><circle cx="321.23" cy="302.34" r="1.14"/><circle cx="318.69" cy="302.06" r="1.14"/><circle cx="323.71" cy="301.80" r="1.14"/><circle cx="321.23" cy="297.03" r="1.14"/><circle cx="318.70" cy="296.67" r="1.14"/><circle cx="323.69" cy="296.41" r="1.14"/><circle cx="326.22" cy="296.09" r="1.14"/><circle cx="316.32" cy="295.81" r="1.14"/><circle cx="321.23" cy="294.30" r="1.14"/><circle cx="321.23" cy="291.40" r="1.14"/><circle cx="318.71" cy="291.00" r="1.14"/><circle cx="321.23" cy="287.99" r="1.14"/><circle cx="318.69" cy="287.77" r="1.14"/><circle cx="323.75" cy="287.65" r="1.14"/><circle cx="326.29" cy="287.46" r="1.14"/><circle cx="316.20" cy="287.23" r="1.14"/><circle cx="313.65" cy="287.13" r="1.14"/><circle cx="328.78" cy="286.91" r="1.14"/><circle cx="311.15" cy="286.68" r="1.14"/><circle cx="331.30" cy="286.58" r="1.14"/><circle cx="308.62" cy="286.33" r="1.14"/><circle cx="333.82" cy="286.17" r="1.14"/><circle cx="306.10" cy="286.00" r="1.14"/><circle cx="321.23" cy="283.26" r="1.14"/><circle cx="318.68" cy="283.15" r="1.14"/><circle cx="323.74" cy="282.87" r="1.14"/><circle cx="316.49" cy="281.89" r="1.14"/><circle cx="325.93" cy="281.62" r="1.14"/><circle cx="313.99" cy="281.43" r="1.14"/><circle cx="328.43" cy="281.16" r="1.14"/><circle cx="320.44" cy="280.95" r="1.14"/><circle cx="311.55" cy="280.74" r="1.14"/><circle cx="322.93" cy="280.46" r="1.14"/><circle cx="330.81" cy="280.28" r="1.14"/><circle cx="318.09" cy="280.00" r="1.14"/><circle cx="309.20" cy="279.78" r="1.14"/><circle cx="321.23" cy="275.70" r="1.14"/></g>
<rect x="198.30" y="269.40" width="163.90" height="106.30" fill="none" stroke="#000" stroke-width="0.5"/>
<path d="M198.30 286.30h-1.4M198.30 306.60h-1.4M198.30 326.90h-1.4M198.30 347.20h-1.4M198.30 367.50h-1.4M239.28 375.70v1.4M321.23 375.70v1.4" stroke="#000" stroke-width="0.65" fill="none"/>
<text transform="translate(194.70 288.00) scale(0.3056) rotate(0.05)" font-size="15.28" text-anchor="end">0.95</text>
<text transform="translate(194.70 308.30) scale(0.3056) rotate(0.05)" font-size="15.28" text-anchor="end">0.90</text>
<text transform="translate(194.70 328.60) scale(0.3056) rotate(0.05)" font-size="15.28" text-anchor="end">0.85</text>
<text transform="translate(194.70 348.90) scale(0.3056) rotate(0.05)" font-size="15.28" text-anchor="end">0.80</text>
<text transform="translate(194.70 369.20) scale(0.3056) rotate(0.05)" font-size="15.28" text-anchor="end">0.75</text>
<text transform="translate(239.28 383.50) scale(0.3056) rotate(0.05)" font-size="15.97" text-anchor="middle">Proposed Method</text>
<text transform="translate(321.23 383.50) scale(0.3056) rotate(0.05)" font-size="15.97" text-anchor="middle">Regular Fully Connected Layer</text>
<text transform="translate(280.25 266.75) scale(0.3056) rotate(0.05)" font-size="18.89" text-anchor="middle">frogs_genus</text>
</g>
<g>
<rect x="390.60" y="279.30" width="65.56" height="26.70" fill="#3274a1" stroke="#383838" stroke-width="0.72"/>
<path d="M423.38 274.00V279.30M423.38 306.00V336.40M406.99 274.00H439.76M406.99 336.40H439.76M390.60 285.20H456.15" fill="none" stroke="#383838" stroke-width="0.72"/>
<path d="M423.38 358.95l1.3 2.25l-1.3 2.25l-1.3 -2.25z" fill="#383838"/>
<g fill="#333" stroke="#777" stroke-width="0.3"><circle cx="423.38" cy="361.20" r="1.14"/><circle cx="423.38" cy="336.40" r="1.14"/><circle cx="423.38" cy="331.80" r="1.14"/><circle cx="420.88" cy="331.30" r="1.14"/><circle cx="423.38" cy="327.70" r="1.14"/><circle cx="423.38" cy="324.00" r="1.14"/><circle cx="423.38" cy="321.00" r="1.14"/><circle cx="423.38" cy="317.00" r="1.14"/><circle cx="422.00" cy="314.96" r="1.14"/><circle cx="424.51" cy="314.54" r="1.14"/><circle cx="427.02" cy="314.14" r="1.14"/><circle cx="419.82" cy="313.69" r="1.14"/><circle cx="429.41" cy="313.27" r="1.14"/><circle cx="423.38" cy="310.30" r="1.14"/><circle cx="423.38" cy="307.50" r="1.14"/><circle cx="423.38" cy="302.60" r="1.14"/><circle cx="422.09" cy="300.50" r="1.14"/><circle cx="423.38" cy="294.80" r="1.14"/><circle cx="422.07" cy="292.71" r="1.14"/><circle cx="424.48" cy="291.93" r="1.14"/><circle cx="420.07" cy="291.21" r="1.14"/><circle cx="426.47" cy="290.40" r="1.14"/><circle cx="423.38" cy="289.69" r="1.14"/><circle cx="420.98" cy="288.85" r="1.14"/><circle cx="425.29" cy="288.09" r="1.14"/><circle cx="427.73" cy="287.38" r="1.14"/><circle cx="423.38" cy="286.54" r="1.14"/><circle cx="420.95" cy="285.78" r="1.14"/><circle cx="425.41" cy="285.07" r="1.14"/><circle cx="418.93" cy="284.30" r="1.14"/><circle cx="423.38" cy="283.52" r="1.14"/><circle cx="420.95" cy="282.77" r="1.14"/><circle cx="425.35" cy="281.97" r="1.14"/><circle cx="423.38" cy="279.81" r="1.14"/><circle cx="420.83" cy="279.72" r="1.14"/><circle cx="426.02" cy="279.63" r="1.14"/><circle cx="418.29" cy="279.51" r="1.14"/><circle cx="428.56" cy="279.46" r="1.14"/><circle cx="415.74" cy="279.37" r="1.14"/><circle cx="431.10" cy="279.29" r="1.14"/><circle cx="413.20" cy="279.13" r="1.14"/><circle cx="433.64" cy="279.04" r="1.14"/><circle cx="410.66" cy="279.03" r="1.14"/><circle cx="436.19" cy="278.95" r="1.14"/><circle cx="423.38" cy="277.19" r="1.14"/><circle cx="420.91" cy="276.56" r="1.14"/><circle cx="425.53" cy="275.90" r="1.14"/><circle cx="428.00" cy="275.31" r="1.14"/><circle cx="423.38" cy="274.67" r="1.14"/><circle cx="420.94" cy="273.96" r="1.14"/></g>
<rect x="472.54" y="280.30" width="65.56" height="28.90" fill="#e1812c" stroke="#383838" stroke-width="0.72"/>
<path d="M505.32 274.60V280.30M505.32 309.20V337.70M488.94 274.60H521.72M488.94 337.70H521.72M472.54 286.50H538.11" fill="none" stroke="#383838" stroke-width="0.72"/>
<path d="M505.32 358.95l1.3 2.25l-1.3 2.25l-1.3 -2.25z" fill="#383838"/>
<path d="M505.32 365.75l1.3 2.25l-1.3 2.25l-1.3 -2.25z" fill="#383838"/>
<g fill="#333" stroke="#777" stroke-width="0.3"><circle cx="505.32" cy="368.00" r="1.14"/><circle cx="505.32" cy="361.20" r="1.14"/><circle cx="505.32" cy="337.70" r="1.14"/><circle cx="505.32" cy="333.00" r="1.14"/><circle cx="503.00" cy="332.00" r="1.14"/><circle cx="505.32" cy="325.60" r="1.14"/><circle cx="505.32" cy="319.16" r="1.14"/><circle cx="503.16" cy="317.87" r="1.14"/><circle cx="505.32" cy="316.46" r="1.14"/><circle cx="503.26" cy="315.04" r="1.14"/><circle cx="505.32" cy="313.75" r="1.14"/><circle cx="503.27" cy="312.31" r="1.14"/><circle cx="505.32" cy="310.96" r="1.14"/><circle cx="503.21" cy="309.60" r="1.14"/><circle cx="505.32" cy="303.30" r="1.14"/><circle cx="504.51" cy="301.00" r="1.14"/><circle cx="505.32" cy="295.97" r="1.14"/><circle cx="502.99" cy="295.00" r="1.14"/><circle cx="506.81" cy="294.00" r="1.14"/><circle cx="504.49" cy="293.00" r="1.14"/><circle cx="508.29" cy="292.01" r="1.14"/><circle cx="505.89" cy="290.97" r="1.14"/><circle cx="503.53" cy="290.05" r="1.14"/><circle cx="507.35" cy="288.97" r="1.14"/><circle cx="505.03" cy="287.96" r="1.14"/><circle cx="502.68" cy="287.02" r="1.14"/><circle cx="506.48" cy="285.96" r="1.14"/><circle cx="504.16" cy="285.05" r="1.14"/><circle cx="507.95" cy="283.97" r="1.14"/><circle cx="505.32" cy="282.56" r="1.14"/><circle cx="502.78" cy="282.43" r="1.14"/><circle cx="509.73" cy="282.23" r="1.14"/><circle cx="500.25" cy="282.12" r="1.14"/><circle cx="512.25" cy="281.92" r="1.14"/><circle cx="497.72" cy="281.79" r="1.14"/><circle cx="514.79" cy="281.64" r="1.14"/><circle cx="495.20" cy="281.44" r="1.14"/><circle cx="517.32" cy="281.34" r="1.14"/><circle cx="507.38" cy="281.13" r="1.14"/><circle cx="492.70" cy="280.98" r="1.14"/><circle cx="505.13" cy="280.00" r="1.14"/><circle cx="502.62" cy="279.55" r="1.14"/><circle cx="508.65" cy="279.02" r="1.14"/><circle cx="500.28" cy="278.58" r="1.14"/><circle cx="511.02" cy="278.13" r="1.14"/><circle cx="505.95" cy="277.70" r="1.14"/><circle cx="503.45" cy="277.23" r="1.14"/><circle cx="507.44" cy="275.73" r="1.14"/><circle cx="505.02" cy="274.97" r="1.14"/><circle cx="502.60" cy="274.21" r="1.14"/></g>
<rect x="382.40" y="268.45" width="163.90" height="106.30" fill="none" stroke="#000" stroke-width="0.5"/>
<path d="M382.40 283.10h-1.4M382.40 299.75h-1.4M382.40 316.40h-1.4M382.40 333.05h-1.4M382.40 349.70h-1.4M382.40 366.35h-1.4M423.38 374.75v1.4M505.32 374.75v1.4" stroke="#000" stroke-width="0.65" fill="none"/>
<text transform="translate(378.80 284.80) scale(0.3056) rotate(0.05)" font-size="15.28" text-anchor="end">0.95</text>
<text transform="translate(378.80 301.45) scale(0.3056) rotate(0.05)" font-size="15.28" text-anchor="end">0.90</text>
<text transform="translate(378.80 318.10) scale(0.3056) rotate(0.05)" font-size="15.28" text-anchor="end">0.85</text>
<text transform="translate(378.80 334.75) scale(0.3056) rotate(0.05)" font-size="15.28" text-anchor="end">0.80</text>
<text transform="translate(378.80 351.40) scale(0.3056) rotate(0.05)" font-size="15.28" text-anchor="end">0.75</text>
<text transform="translate(378.80 368.05) scale(0.3056) rotate(0.05)" font-size="15.28" text-anchor="end">0.70</text>
<text transform="translate(423.38 382.55) scale(0.3056) rotate(0.05)" font-size="15.97" text-anchor="middle">Proposed Method</text>
<text transform="translate(505.32 382.55) scale(0.3056) rotate(0.05)" font-size="15.97" text-anchor="middle">Regular Fully Connected Layer</text>
<text transform="translate(464.35 265.80) scale(0.3056) rotate(0.05)" font-size="18.89" text-anchor="middle">frogs_species</text>
</g>
<g>
<rect x="24.70" y="406.40" width="65.56" height="4.80" fill="#3274a1" stroke="#383838" stroke-width="0.72"/>
<path d="M57.48 404.20V406.40M57.48 411.20V415.40M41.09 404.20H73.87M41.09 415.40H73.87M24.70 409.00H90.25" fill="none" stroke="#383838" stroke-width="0.72"/>
<path d="M57.48 414.79l1.3 2.25l-1.3 2.25l-1.3 -2.25z" fill="#383838"/>
<path d="M57.48 496.15l1.3 2.25l-1.3 2.25l-1.3 -2.25z" fill="#383838"/>
<g fill="#333" stroke="#555" stroke-width="0.2"><circle cx="57.48" cy="498.40" r="1.18"/><circle cx="57.48" cy="417.04" r="1.18"/><circle cx="57.04" cy="415.17" r="1.18"/><circle cx="59.59" cy="415.17" r="1.18"/><circle cx="57.48" cy="413.30" r="1.18"/><circle cx="60.02" cy="413.30" r="1.18"/><circle cx="54.93" cy="413.30" r="1.18"/><circle cx="62.57" cy="413.30" r="1.18"/><circle cx="52.38" cy="413.30" r="1.18"/><circle cx="57.04" cy="411.43" r="1.18"/><circle cx="59.59" cy="411.43" r="1.18"/><circle cx="54.49" cy="411.43" r="1.18"/><circle cx="62.14" cy="411.43" r="1.18"/><circle cx="51.94" cy="411.43" r="1.18"/><circle cx="64.69" cy="411.43" r="1.18"/><circle cx="49.39" cy="411.43" r="1.18"/><circle cx="67.24" cy="411.43" r="1.18"/><circle cx="46.84" cy="411.43" r="1.18"/><circle cx="69.79" cy="411.43" r="1.18"/><circle cx="44.29" cy="411.43" r="1.18"/><circle cx="72.34" cy="411.43" r="1.18"/><circle cx="41.74" cy="411.43" r="1.18"/><circle cx="57.48" cy="409.56" r="1.18"/><circle cx="60.02" cy="409.56" r="1.18"/><circle cx="54.93" cy="409.56" r="1.18"/><circle cx="62.57" cy="409.56" r="1.18"/><circle cx="52.38" cy="409.56" r="1.18"/><circle cx="65.12" cy="409.56" r="1.18"/><circle cx="49.83" cy="409.56" r="1.18"/><circle cx="67.67" cy="409.56" r="1.18"/><circle cx="47.28" cy="409.56" r="1.18"/><circle cx="70.22" cy="409.56" r="1.18"/><circle cx="44.73" cy="409.56" r="1.18"/><circle cx="72.77" cy="409.56" r="1.18"/><circle cx="42.18" cy="409.56" r="1.18"/><circle cx="75.32" cy="409.56" r="1.18"/><circle cx="57.48" cy="405.82" r="1.18"/><circle cx="54.93" cy="405.82" r="1.18"/><circle cx="60.02" cy="405.82" r="1.18"/><circle cx="52.38" cy="405.82" r="1.18"/><circle cx="62.58" cy="405.82" r="1.18"/><circle cx="49.83" cy="405.82" r="1.18"/><circle cx="65.12" cy="405.82" r="1.18"/><circle cx="57.04" cy="403.95" r="1.18"/><circle cx="59.59" cy="403.95" r="1.18"/><circle cx="54.49" cy="403.95" r="1.18"/><circle cx="62.14" cy="403.95" r="1.18"/><circle cx="51.94" cy="403.95" r="1.18"/><circle cx="64.69" cy="403.95" r="1.18"/><circle cx="49.39" cy="403.95" r="1.18"/></g>
<rect x="106.65" y="406.80" width="65.56" height="4.10" fill="#e1812c" stroke="#383838" stroke-width="0.72"/>
<path d="M139.43 404.20V406.80M139.43 410.90V415.40M123.04 404.20H155.81M123.04 415.40H155.81M106.65 408.90H172.21" fill="none" stroke="#383838" stroke-width="0.72"/>
<path d="M139.43 414.79l1.3 2.25l-1.3 2.25l-1.3 -2.25z" fill="#383838"/>
<path d="M139.43 416.66l1.3 2.25l-1.3 2.25l-1.3 -2.25z" fill="#383838"/>
<path d="M139.43 496.15l1.3 2.25l-1.3 2.25l-1.3 -2.25z" fill="#383838"/>
<g fill="#333" stroke="#555" stroke-width="0.2"><circle cx="139.43" cy="498.40" r="1.18"/><circle cx="139.43" cy="418.91" r="1.18"/><circle cx="138.99" cy="417.04" r="1.18"/><circle cx="141.54" cy="417.04" r="1.18"/><circle cx="139.43" cy="415.17" r="1.18"/><circle cx="141.98" cy="415.17" r="1.18"/><circle cx="138.99" cy="413.30" r="1.18"/><circle cx="141.54" cy="413.30" r="1.18"/><circle cx="136.44" cy="413.30" r="1.18"/><circle cx="144.09" cy="413.30" r="1.18"/><circle cx="139.43" cy="411.43" r="1.18"/><circle cx="141.98" cy="411.43" r="1.18"/><circle cx="136.88" cy="411.43" r="1.18"/><circle cx="144.53" cy="411.43" r="1.18"/><circle cx="134.33" cy="411.43" r="1.18"/><circle cx="147.08" cy="411.43" r="1.18"/><circle cx="131.78" cy="411.43" r="1.18"/><circle cx="149.63" cy="411.43" r="1.18"/><circle cx="129.23" cy="411.43" r="1.18"/><circle cx="152.18" cy="411.43" r="1.18"/><circle cx="126.68" cy="411.43" r="1.18"/><circle cx="154.73" cy="411.43" r="1.18"/><circle cx="124.13" cy="411.43" r="1.18"/><circle cx="157.28" cy="411.43" r="1.18"/><circle cx="121.58" cy="411.43" r="1.18"/><circle cx="159.83" cy="411.43" r="1.18"/><circle cx="119.03" cy="411.43" r="1.18"/><circle cx="162.38" cy="411.43" r="1.18"/><circle cx="138.99" cy="409.56" r="1.18"/><circle cx="141.54" cy="409.56" r="1.18"/><circle cx="136.44" cy="409.56" r="1.18"/><circle cx="144.09" cy="409.56" r="1.18"/><circle cx="133.89" cy="409.56" r="1.18"/><circle cx="139.43" cy="407.69" r="1.18"/><circle cx="141.98" cy="407.69" r="1.18"/><circle cx="136.88" cy="407.69" r="1.18"/><circle cx="144.53" cy="407.69" r="1.18"/><circle cx="134.33" cy="407.69" r="1.18"/><circle cx="138.99" cy="405.82" r="1.18"/><circle cx="141.54" cy="405.82" r="1.18"/><circle cx="136.44" cy="405.82" r="1.18"/><circle cx="144.09" cy="405.82" r="1.18"/><circle cx="133.89" cy="405.82" r="1.18"/><circle cx="146.64" cy="405.82" r="1.18"/><circle cx="131.34" cy="405.82" r="1.18"/><circle cx="149.19" cy="405.82" r="1.18"/><circle cx="128.79" cy="405.82" r="1.18"/><circle cx="139.43" cy="403.95" r="1.18"/><circle cx="141.98" cy="403.95" r="1.18"/><circle cx="136.88" cy="403.95" r="1.18"/></g>
<rect x="16.50" y="398.65" width="163.90" height="106.30" fill="none" stroke="#000" stroke-width="0.5"/>
<path d="M16.50 402.60h-1.4M16.50 415.36h-1.4M16.50 428.12h-1.4M16.50 440.88h-1.4M16.50 453.64h-1.4M16.50 466.40h-1.4M16.50 479.16h-1.4M16.50 491.92h-1.4M16.50 504.68h-1.4M57.48 504.95v1.4M139.43 504.95v1.4" stroke="#000" stroke-width="0.65" fill="none"/>
<text transform="translate(12.90 404.30) scale(0.3056) rotate(0.05)" font-size="15.28" text-anchor="end">1.00</text>
<text transform="translate(12.90 417.06) scale(0.3056) rotate(0.05)" font-size="15.28" text-anchor="end">0.95</text>
<text transform="translate(12.90 429.82) scale(0.3056) rotate(0.05)" font-size="15.28" text-anchor="end">0.90</text>
<text transform="translate(12.90 442.58) scale(0.3056) rotate(0.05)" font-size="15.28" text-anchor="end">0.85</text>
<text transform="translate(12.90 455.34) scale(0.3056) rotate(0.05)" font-size="15.28" text-anchor="end">0.80</text>
<text transform="translate(12.90 468.10) scale(0.3056) rotate(0.05)" font-size="15.28" text-anchor="end">0.75</text>
<text transform="translate(12.90 480.86) scale(0.3056) rotate(0.05)" font-size="15.28" text-anchor="end">0.70</text>
<text transform="translate(12.90 493.62) scale(0.3056) rotate(0.05)" font-size="15.28" text-anchor="end">0.65</text>
<text transform="translate(12.90 506.38) scale(0.3056) rotate(0.05)" font-size="15.28" text-anchor="end">0.60</text>
<text transform="translate(57.48 512.75) scale(0.3056) rotate(0.05)" font-size="15.97" text-anchor="middle">Proposed Method</text>
<text transform="translate(139.43 512.75) scale(0.3056) rotate(0.05)" font-size="15.97" text-anchor="middle">Regular Fully Connected Layer</text>
<text transform="translate(98.45 396.00) scale(0.3056) rotate(0.05)" font-size="18.89" text-anchor="middle">wdbc</text>
</g>
<g>
<rect x="207.50" y="410.40" width="65.56" height="41.20" fill="#3274a1" stroke="#383838" stroke-width="0.72"/>
<path d="M240.28 405.60V410.40M240.28 451.60V492.00M223.88 405.60H256.67M223.88 492.00H256.67M207.50 433.20H273.06" fill="none" stroke="#383838" stroke-width="0.72"/>
<g fill="#333" stroke="#777" stroke-width="0.3"><circle cx="240.28" cy="492.00" r="1.14"/><circle cx="238.19" cy="490.60" r="1.14"/><circle cx="240.41" cy="489.40" r="1.14"/><circle cx="240.28" cy="480.50" r="1.14"/><circle cx="240.28" cy="470.30" r="1.14"/><circle cx="238.00" cy="469.20" r="1.14"/><circle cx="240.28" cy="464.00" r="1.14"/><circle cx="240.28" cy="459.74" r="1.14"/><circle cx="237.90" cy="458.86" r="1.14"/><circle cx="242.08" cy="458.02" r="1.14"/><circle cx="239.70" cy="457.15" r="1.14"/><circle cx="237.32" cy="456.28" r="1.14"/><circle cx="241.49" cy="455.41" r="1.14"/><circle cx="240.28" cy="452.90" r="1.14"/><circle cx="240.28" cy="446.50" r="1.14"/><circle cx="240.28" cy="441.63" r="1.14"/><circle cx="237.90" cy="440.74" r="1.14"/><circle cx="241.94" cy="439.79" r="1.14"/><circle cx="239.59" cy="438.86" r="1.14"/><circle cx="237.21" cy="437.97" r="1.14"/><circle cx="241.33" cy="437.09" r="1.14"/><circle cx="238.98" cy="436.16" r="1.14"/><circle cx="243.03" cy="435.27" r="1.14"/><circle cx="240.53" cy="434.23" r="1.14"/><circle cx="238.11" cy="433.48" r="1.14"/><circle cx="242.60" cy="432.81" r="1.14"/><circle cx="235.94" cy="432.20" r="1.14"/><circle cx="240.28" cy="431.52" r="1.14"/><circle cx="244.07" cy="430.83" r="1.14"/><circle cx="238.15" cy="430.18" r="1.14"/><circle cx="241.64" cy="429.47" r="1.14"/><circle cx="239.79" cy="427.80" r="1.14"/><circle cx="240.28" cy="423.20" r="1.14"/><circle cx="239.19" cy="421.00" r="1.14"/><circle cx="241.11" cy="419.40" r="1.14"/><circle cx="240.28" cy="414.16" r="1.14"/><circle cx="237.73" cy="414.04" r="1.14"/><circle cx="242.80" cy="413.85" r="1.14"/><circle cx="240.28" cy="409.75" r="1.14"/><circle cx="237.74" cy="409.50" r="1.14"/><circle cx="242.75" cy="409.15" r="1.14"/><circle cx="235.28" cy="408.86" r="1.14"/><circle cx="245.19" cy="408.46" r="1.14"/><circle cx="232.84" cy="408.14" r="1.14"/><circle cx="247.67" cy="407.89" r="1.14"/><circle cx="239.19" cy="407.55" r="1.14"/><circle cx="230.49" cy="407.21" r="1.14"/><circle cx="241.64" cy="406.89" r="1.14"/><circle cx="236.87" cy="406.54" r="1.14"/><circle cx="244.08" cy="406.27" r="1.14"/><circle cx="234.39" cy="405.96" r="1.14"/><circle cx="246.52" cy="405.56" r="1.14"/></g>
<rect x="289.45" y="410.40" width="65.56" height="41.20" fill="#e1812c" stroke="#383838" stroke-width="0.72"/>
<path d="M322.23 406.00V410.40M322.23 451.60V500.00M305.84 406.00H338.62M305.84 500.00H338.62M289.45 432.50H355.00" fill="none" stroke="#383838" stroke-width="0.72"/>
<g fill="#333" stroke="#777" stroke-width="0.3"><circle cx="322.23" cy="500.00" r="1.14"/><circle cx="322.23" cy="490.20" r="1.14"/><circle cx="319.71" cy="489.80" r="1.14"/><circle cx="322.23" cy="482.40" r="1.14"/><circle cx="322.23" cy="471.00" r="1.14"/><circle cx="322.23" cy="459.74" r="1.14"/><circle cx="319.75" cy="459.17" r="1.14"/><circle cx="324.47" cy="458.58" r="1.14"/><circle cx="326.97" cy="458.14" r="1.14"/><circle cx="317.86" cy="457.53" r="1.14"/><circle cx="322.23" cy="457.02" r="1.14"/><circle cx="328.85" cy="456.50" r="1.14"/><circle cx="322.23" cy="453.30" r="1.14"/><circle cx="322.23" cy="443.80" r="1.14"/><circle cx="319.78" cy="443.10" r="1.14"/><circle cx="324.27" cy="442.35" r="1.14"/><circle cx="326.73" cy="441.72" r="1.14"/><circle cx="322.23" cy="440.93" r="1.14"/><circle cx="319.79" cy="440.20" r="1.14"/><circle cx="324.33" cy="439.55" r="1.14"/><circle cx="317.72" cy="438.78" r="1.14"/><circle cx="322.23" cy="438.16" r="1.14"/><circle cx="319.81" cy="437.37" r="1.14"/><circle cx="322.23" cy="434.15" r="1.14"/><circle cx="319.72" cy="433.68" r="1.14"/><circle cx="324.53" cy="433.11" r="1.14"/><circle cx="317.43" cy="432.61" r="1.14"/><circle cx="326.85" cy="432.10" r="1.14"/><circle cx="322.23" cy="431.53" r="1.14"/><circle cx="319.72" cy="431.07" r="1.14"/><circle cx="324.53" cy="430.49" r="1.14"/><circle cx="317.44" cy="429.98" r="1.14"/><circle cx="322.23" cy="426.80" r="1.14"/><circle cx="320.94" cy="424.70" r="1.14"/><circle cx="322.23" cy="422.50" r="1.14"/><circle cx="322.23" cy="416.20" r="1.14"/><circle cx="321.14" cy="414.00" r="1.14"/><circle cx="322.23" cy="410.93" r="1.14"/><circle cx="319.70" cy="410.60" r="1.14"/><circle cx="324.71" cy="410.38" r="1.14"/><circle cx="327.24" cy="410.07" r="1.14"/><circle cx="317.28" cy="409.84" r="1.14"/><circle cx="314.75" cy="409.53" r="1.14"/><circle cx="329.65" cy="409.28" r="1.14"/><circle cx="312.28" cy="408.94" r="1.14"/><circle cx="321.27" cy="408.69" r="1.14"/><circle cx="332.04" cy="408.44" r="1.14"/><circle cx="334.58" cy="408.20" r="1.14"/><circle cx="323.69" cy="407.93" r="1.14"/><circle cx="321.80" cy="406.30" r="1.14"/><circle cx="319.27" cy="406.00" r="1.14"/></g>
<rect x="199.30" y="400.00" width="163.90" height="106.30" fill="none" stroke="#000" stroke-width="0.5"/>
<path d="M199.30 408.10h-1.4M199.30 430.70h-1.4M199.30 453.30h-1.4M199.30 475.90h-1.4M199.30 498.50h-1.4M240.28 506.30v1.4M322.23 506.30v1.4" stroke="#000" stroke-width="0.65" fill="none"/>
<text transform="translate(195.70 409.80) scale(0.3056) rotate(0.05)" font-size="15.28" text-anchor="end">0.9</text>
<text transform="translate(195.70 432.40) scale(0.3056) rotate(0.05)" font-size="15.28" text-anchor="end">0.8</text>
<text transform="translate(195.70 455.00) scale(0.3056) rotate(0.05)" font-size="15.28" text-anchor="end">0.7</text>
<text transform="translate(195.70 477.60) scale(0.3056) rotate(0.05)" font-size="15.28" text-anchor="end">0.6</text>
<text transform="translate(195.70 500.20) scale(0.3056) rotate(0.05)" font-size="15.28" text-anchor="end">0.5</text>
<text transform="translate(240.28 514.10) scale(0.3056) rotate(0.05)" font-size="15.97" text-anchor="middle">Proposed Method</text>
<text transform="translate(322.23 514.10) scale(0.3056) rotate(0.05)" font-size="15.97" text-anchor="middle">Regular Fully Connected Layer</text>
<text transform="translate(281.25 397.35) scale(0.3056) rotate(0.05)" font-size="18.89" text-anchor="middle">image segmentation</text>
</g>
</g>
</svg>
</body></html>
